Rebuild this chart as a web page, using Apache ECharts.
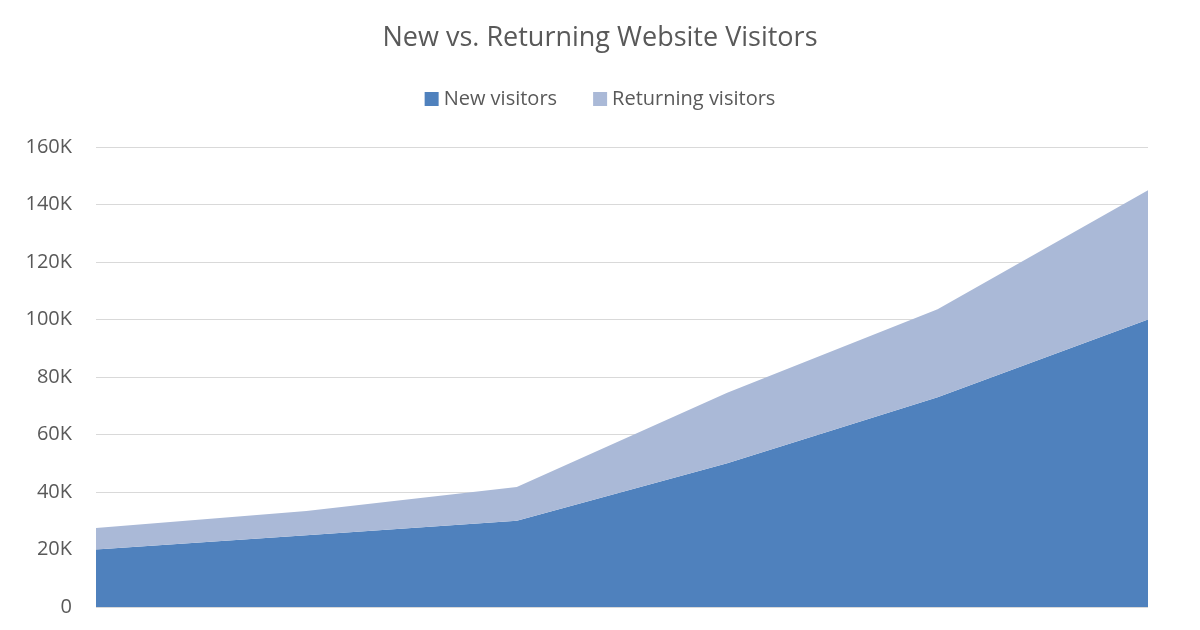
<!DOCTYPE html>
<html><head><meta charset="utf-8">
<script src="https://cdn.jsdelivr.net/npm/echarts@6/dist/echarts.min.js"></script>
<style>html,body{margin:0;padding:0;background:#fff}#c{width:1200px;height:630px}</style>
</head><body><div id="c"></div>
<script>
const categories = ['1','2','3','4','5','6'];
const newVisitors = [20000, 25000, 30000, 50000, 73000, 100000];
const returningVisitors = [7500, 8400, 11700, 24500, 30600, 45000];
const yTicks = [0, 20000, 40000, 60000, 80000, 100000, 120000, 140000, 160000];

const chart = echarts.init(document.getElementById('c'));
chart.setOption({
  animation: false,
  backgroundColor: '#fff',
  title: { text: 'New vs. Returning Website Visitors', left: 'center', top: 20,
    textStyle: { fontFamily: 'Open Sans', fontWeight: 'normal', fontSize: 27, color: '#595959' } },
  legend: { top: 84, left: 'center', itemWidth: 14, itemHeight: 14, itemGap: 36, icon: 'rect',
    textStyle: { fontFamily: 'Open Sans', fontSize: 20, color: '#595959' } },
  grid: { left: 96, right: 52, top: 147, bottom: 23 },
  xAxis: { type: 'category', data: categories, boundaryGap: false,
    axisLabel: { show: false }, axisTick: { show: false }, axisLine: { show: false } },
  yAxis: { type: 'value', min: yTicks[0], max: yTicks[yTicks.length-1], interval: 20000,
    axisLabel: { margin: 24, fontFamily: 'Open Sans', fontSize: 20, color: '#595959',
      formatter: v => v === 0 ? '0' : (v/1000) + 'K' },
    splitLine: { lineStyle: { color: '#d9d9d9' } } },
  series: [
    { name: 'New visitors', type: 'line', stack: 't', data: newVisitors, symbol: 'none',
      lineStyle: { width: 0 }, itemStyle: { color: '#4f81bd' }, areaStyle: { color: '#4f81bd', opacity: 1 } },
    { name: 'Returning visitors', type: 'line', stack: 't', data: returningVisitors, symbol: 'none',
      lineStyle: { width: 0 }, itemStyle: { color: '#aab9d7' }, areaStyle: { color: '#aab9d7', opacity: 1 } }
  ]
});
</script></body></html>
